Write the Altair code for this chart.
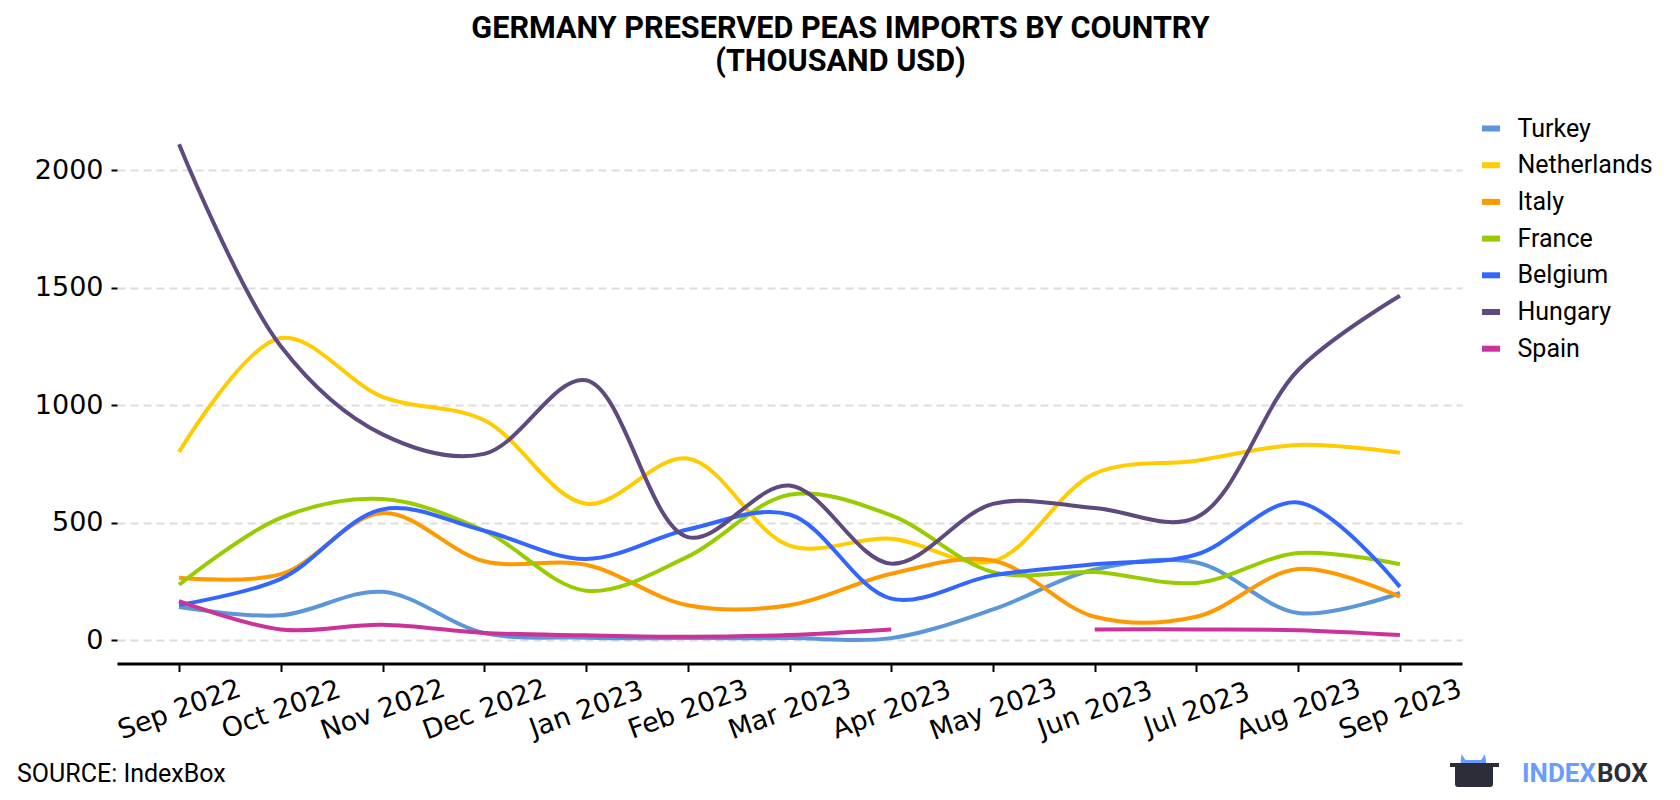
import altair as alt
import pandas as pd

# Monthly import values, thousand USD
months = ["Sep 2022", "Oct 2022", "Nov 2022", "Dec 2022", "Jan 2023", "Feb 2023",
          "Mar 2023", "Apr 2023", "May 2023", "Jun 2023", "Jul 2023", "Aug 2023", "Sep 2023"]

countries = ["Turkey", "Netherlands", "Italy", "France", "Belgium", "Hungary", "Spain"]
colors = ["#5a96d8", "#ffcc00", "#ff9900", "#99cc00", "#3366ff", "#5e4a7e", "#cc3399"]

turkey = [140, 105, 205, 30, 10, 8, 8, 8, 130, 300, 330, 115, 200]
netherlands = [800, 1285, 1035, 935, 580, 772, 402, 431, 335, 708, 763, 830, 797]
italy = [265, 280, 540, 335, 320, 148, 148, 282, 338, 99, 99, 302, 184]
france = [235, 520, 600, 465, 210, 355, 618, 530, 289, 289, 243, 370, 322]
belgium = [150, 260, 556, 465, 345, 470, 534, 176, 275, 322, 364, 585, 226]
hungary = [2110, 1250, 875, 792, 1105, 438, 657, 325, 579, 562, 522, 1149, 1465]
spain = [165, 45, 65, 30, 20, 14, 21, 45, None, 45, 45, 42, 21]

y_ticks = [0, 500, 1000, 1500, 2000]

series = dict(zip(countries, [turkey, netherlands, italy, france, belgium, hungary, spain]))
rows = []
for name, vals in series.items():
    for m, v in zip(months, vals):
        rows.append({"month": m, "country": name, "value": v})
df = pd.DataFrame(rows)

W, H = 1345, 540.5

lines = alt.Chart(df).mark_line(
    strokeWidth=4, interpolate="catmull-rom", strokeCap="butt"
).encode(
    x=alt.X("month:O", sort=months,
            scale=alt.Scale(type="point", padding=0.61),
            axis=alt.Axis(title=None, labelAngle=-20, labelAlign="center",
                          labelBaseline="middle", labelPadding=38,
                          labelFont="DejaVu Sans", labelFontSize=27, labelColor="#000",
                          domainColor="#000", domainWidth=3, tickColor="#000",
                          tickWidth=2, tickSize=8, grid=False)),
    y=alt.Y("value:Q", scale=alt.Scale(domain=[-100, 2200], nice=False, zero=False),
            axis=alt.Axis(title=None, values=y_ticks, format="d", labelFont="DejaVu Sans",
                          labelFontSize=27, labelColor="#000", labelPadding=8,
                          tickSize=6, tickWidth=2, tickColor="#000", domain=False,
                          grid=True, gridColor="#dddddd", gridDash=[8, 5], gridWidth=2)),
    color=alt.Color("country:N", sort=countries,
                    scale=alt.Scale(domain=countries, range=colors),
                    legend=alt.Legend(title=None, orient="none", legendX=1361.5, legendY=-7,
                                      symbolType="stroke", symbolStrokeWidth=6,
                                      symbolSize=324, labelFont="Roboto",
                                      labelFontSize=25, labelColor="#000",
                                      labelOffset=14, rowPadding=10.7, padding=0)),
)

one = alt.Data(values=[{}])

source = alt.Chart(one).mark_text(
    text="SOURCE: IndexBox", font="Roboto", fontSize=25, align="left",
    baseline="middle", color="#000"
).encode(x=alt.value(-100), y=alt.value(651))

brand_index = alt.Chart(one).mark_text(
    text="INDEX", font="Roboto", fontWeight="bold", fontSize=26, align="right",
    baseline="middle", color="#6a9cff"
).encode(x=alt.value(1479), y=alt.value(651))

brand_box = alt.Chart(one).mark_text(
    text="BOX", font="Roboto", fontWeight="bold", fontSize=26, align="left",
    baseline="middle", color="#2b2d38"
).encode(x=alt.value(1480), y=alt.value(651))

icon_top = alt.Chart(one).mark_point(
    shape="M-0.58,-0.1 L-0.52,-0.66 L-0.36,-0.42 L0.26,-0.42 L0.42,-0.66 L0.5,-0.1 Z",
    filled=True, fill="#6a9cff", stroke=None, opacity=1, size=2500
).encode(x=alt.value(1357.5), y=alt.value(647.5))

icon_body = alt.Chart(one).mark_point(
    shape=("M-0.98,-0.3 L0.98,-0.3 L0.98,-0.14 L0.74,-0.14 L0.74,0.54 "
           "Q0.74,0.66 0.62,0.66 L-0.66,0.66 Q-0.78,0.66 -0.78,0.54 L-0.78,-0.14 "
           "L-0.98,-0.14 Z"),
    filled=True, fill="#2b2d38", stroke=None, opacity=1, size=2500
).encode(x=alt.value(1357.5), y=alt.value(647.5))

chart = alt.layer(lines, source, brand_index, brand_box, icon_top, icon_body).properties(
    width=W, height=H,
    autosize=alt.AutoSizeParams(type="none"),
    padding={"left": 117, "top": 123, "right": 218, "bottom": 136.5},
    background="#ffffff",
    title=alt.TitleParams(
        text=["GERMANY PRESERVED PEAS IMPORTS BY COUNTRY", "(THOUSAND USD)"],
        font="Roboto", fontWeight="bold", fontSize=30.6, lineHeight=32.5,
        color="#000", anchor="middle", dx=51, offset=38.5),
).configure_view(stroke=None)

chart.save("out.html", embed_options={"renderer": "svg", "actions": False})
